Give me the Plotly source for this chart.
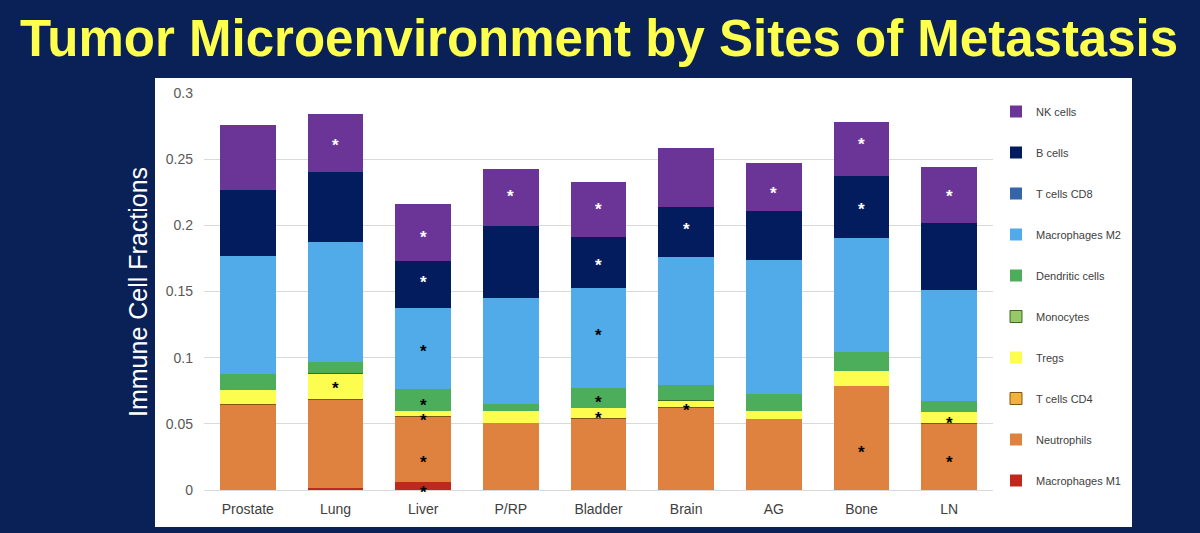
import plotly.graph_objects as go

sites = ["Prostate", "Lung", "Liver", "P/RP", "Bladder", "Brain", "AG", "Bone", "LN"]

# stacked from bottom to top
macrophages_m1 = [0.0, 0.0017, 0.0057, 0.0, 0.0, 0.0, 0.0, 0.0, 0.0]
neutrophils = [0.0648, 0.0668, 0.0500, 0.0507, 0.0542, 0.0625, 0.0537, 0.0789, 0.0504]
t_cells_cd4 = [0.0] * 9
tregs = [0.0110, 0.0199, 0.0041, 0.0091, 0.0078, 0.0053, 0.0063, 0.0113, 0.0086]
monocytes = [0.0] * 9
dendritic = [0.0120, 0.0081, 0.0168, 0.0050, 0.0154, 0.0116, 0.0128, 0.0143, 0.0085]
macrophages_m2 = [0.0888, 0.0910, 0.0609, 0.0803, 0.0754, 0.0966, 0.1009, 0.0861, 0.0838]
t_cells_cd8 = [0.0] * 9
b_cells = [0.0500, 0.0531, 0.0352, 0.0543, 0.0383, 0.0380, 0.0375, 0.0470, 0.0508]
nk_cells = [0.0496, 0.0438, 0.0435, 0.0430, 0.0415, 0.0445, 0.0362, 0.0407, 0.0423]

series = [
    ("Macrophages M1", macrophages_m1, "#c0281e", None),
    ("Neutrophils", neutrophils, "#e0823f", None),
    ("T cells CD4", t_cells_cd4, "#f2b13c", "#7a5a10"),
    ("Tregs", tregs, "#fdfd4f", None),
    ("Monocytes", monocytes, "#98c867", "#3d6b22"),
    ("Dendritic cells", dendritic, "#4cad5b", None),
    ("Macrophages M2", macrophages_m2, "#50abe8", None),
    ("T cells CD8", t_cells_cd8, "#3565a8", None),
    ("B cells", b_cells, "#021c5e", None),
    ("NK cells", nk_cells, "#6b3597", None),
]

# significance asterisks: (site, y-position, colour)
star_sites = ["Lung", "Lung", "Liver", "Liver", "Liver", "Liver", "Liver", "Liver", "Liver",
              "P/RP", "Bladder", "Bladder", "Bladder", "Bladder", "Bladder",
              "Brain", "Brain", "AG", "Bone", "Bone", "Bone", "LN", "LN", "LN"]
star_y = [0.2633, 0.0796, 0.1936, 0.1600, 0.1080, 0.0670, 0.0557, 0.0240, 0.0014,
          0.2248, 0.2147, 0.1727, 0.1194, 0.0693, 0.0567,
          0.2000, 0.0633, 0.2273, 0.2638, 0.2147, 0.0313, 0.2250, 0.0530, 0.0238]
star_white = [1, 0, 1, 1, 0, 0, 0, 0, 0,
              1, 1, 1, 0, 0, 0,
              1, 0, 1, 1, 1, 0, 1, 0, 0]

fig = go.Figure()
n = len(series)
for i, (name, vals, color, line) in enumerate(series):
    fig.add_trace(go.Bar(
        x=sites, y=vals, name=name, legendgroup=name, legendrank=1000 + (n - i),
        marker=dict(color=color,
                    line=dict(color=line if line else color, width=1 if line else 0)),
    ))

W, H = 1200, 533
L, R, T, B = 204, 993, 93, 490
pw, ph = R - L, B - T


def px(x):
    return (x - L) / pw


def py(y):
    return (B - y) / ph


# white panel
fig.add_shape(type="rect", xref="paper", yref="paper",
              x0=px(155), x1=px(1132), y0=py(527), y1=py(78),
              fillcolor="white", line=dict(width=0), layer="below")

for s, y, w in zip(star_sites, star_y, star_white):
    fig.add_annotation(x=s, y=y, text="<b>*</b>", showarrow=False,
                       font=dict(size=17, color="white" if w else "black",
                                 family="Liberation Sans"),
                       yshift=-4, borderpad=0)

fig.add_annotation(x=px(599), y=py(39), xref="paper", yref="paper",
                   text="<b>Tumor Microenvironment by Sites of Metastasis</b>",
                   showarrow=False, xanchor="center", yanchor="middle",
                   font=dict(size=51, color="#ffff4d", family="Liberation Sans"))

fig.add_annotation(x=px(138), y=py(292), xref="paper", yref="paper",
                   text="Immune Cell Fractions", textangle=-90, showarrow=False,
                   xanchor="center", yanchor="middle",
                   font=dict(size=25, color="white", family="Liberation Sans"))

fig.update_layout(
    width=W, height=H,
    margin=dict(l=L, r=W - R, t=T, b=H - B, pad=0),
    paper_bgcolor="#0a2157",
    plot_bgcolor="white",
    barmode="stack",
    bargap=0.364,
    showlegend=True,
    legend=dict(traceorder="grouped", tracegroupgap=22, maxheight=700,
                x=px(996), xanchor="left", y=py(97), yanchor="top",
                bgcolor="rgba(0,0,0,0)",
                font=dict(size=11, color="#404040", family="Liberation Sans"),
                itemclick=False),
    xaxis=dict(showgrid=False, showline=False, ticks="", ticklabelstandoff=9,
               tickfont=dict(size=14, color="#404040", family="Liberation Sans")),
    yaxis=dict(range=[0, 0.3], dtick=0.05, showgrid=True, gridcolor="#d9d9d9",
               gridwidth=1, zeroline=True, zerolinecolor="#d9d9d9", zerolinewidth=1,
               showline=False, ticks="", ticklabelstandoff=10,
               tickfont=dict(size=14, color="#595959", family="Liberation Sans")),
)

fig.write_html("out.html")
